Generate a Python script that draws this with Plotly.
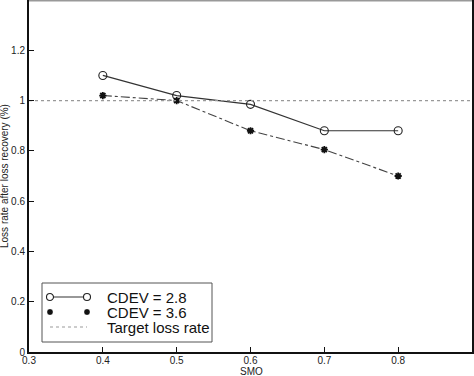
import plotly.graph_objects as go

smo = [0.4, 0.5, 0.6, 0.7, 0.8]
cdev28 = [1.10, 1.02, 0.985, 0.88, 0.88]
cdev36 = [1.02, 1.00, 0.88, 0.805, 0.70]
target_x = [0.3, 0.9]
target_loss = 1.0
series_names = ["CDEV = 2.8", "CDEV = 3.6", "Target loss rate"]
x_ticks = [0.3, 0.4, 0.5, 0.6, 0.7, 0.8]
y_ticks = [0, 0.2, 0.4, 0.6, 0.8, 1, 1.2]
y_tick_text = ["0", "0.2", "0.4", "0.6", "0.8", "1", "1.2"]

W, H = 474, 376
ML, MR, MT, MB = 29, 2, 0, 24
PW, PH = W - ML - MR, H - MT - MB


def px(x):
    return (x - ML) / PW


def py(y):
    return (H - MB - y) / PH


fig = go.Figure()
fig.add_trace(go.Scatter(
    x=smo, y=cdev28, mode="lines+markers", name=series_names[0],
    line=dict(color="#333333", width=1.2),
    marker=dict(symbol="circle-open", size=8, color="#222222", line=dict(width=1.1)),
))
fig.add_trace(go.Scatter(
    x=smo, y=cdev36, mode="lines+markers", name=series_names[1],
    line=dict(color="#444444", width=1.1, dash="dashdot"),
    marker=dict(symbol="asterisk-open", size=6, color="#111111", line=dict(width=1.8, color="#111111")),
))
fig.add_trace(go.Scatter(
    x=target_x, y=[target_loss] * len(target_x), mode="lines", name=series_names[2],
    line=dict(color="#999999", width=1.2, dash="dot"),
))

axis_common = dict(
    showgrid=False, zeroline=False, showline=True, linecolor="#111111", linewidth=2,
    mirror=True, ticks="inside", ticklen=5, tickcolor="#111111", automargin=False,
    tickfont=dict(size=10, color="#222222"),
)
fig.update_layout(
    width=W, height=H,
    margin=dict(l=ML, r=MR, t=MT, b=MB, autoexpand=False),
    paper_bgcolor="white", plot_bgcolor="white",
    font=dict(family="Liberation Sans, Arial, sans-serif", color="#222222", size=10),
    showlegend=False,
    xaxis=dict(range=[0.3, 0.9], tickvals=x_ticks, ticktext=[str(v) for v in x_ticks],
               ticklabelstandoff=-2, **axis_common),
    yaxis=dict(range=[0, 1.4], tickvals=y_ticks, ticktext=y_tick_text, **axis_common),
)

# top border gray
fig.add_shape(type="line", xref="paper", yref="paper", x0=0, x1=1, y0=1, y1=1,
              line=dict(color="#999999", width=3))

# axis titles
fig.add_annotation(text="SMO", xref="paper", yref="paper", x=px(251), y=py(371.5),
                   xanchor="center", yanchor="middle", showarrow=False,
                   font=dict(size=10, color="#222222"))
fig.add_annotation(text="Loss rate after loss recovery (%)", xref="paper", yref="paper",
                   x=px(4), y=0.5, xanchor="center", yanchor="middle", textangle=-90,
                   showarrow=False, font=dict(size=10, color="#222222"))

# custom legend box
fig.add_shape(type="rect", xref="paper", yref="paper", x0=px(42), x1=px(212), y0=py(342), y1=py(283),
              line=dict(color="#555555", width=1), fillcolor="white", layer="above")
rows = [297, 312, 327]
kx0, kx1 = 50, 87
# row 1: solid line with circles
fig.add_shape(type="line", xref="paper", yref="paper", x0=px(kx0), x1=px(kx1), y0=py(rows[0]), y1=py(rows[0]),
              line=dict(color="#333333", width=1.2), layer="above")
for kx in (kx0, kx1):
    fig.add_shape(type="circle", xref="paper", yref="paper", xsizemode="pixel", ysizemode="pixel",
                  xanchor=px(kx), yanchor=py(rows[0]), x0=-3.5, x1=3.5, y0=-3.5, y1=3.5,
                  line=dict(color="#222222", width=1.1), fillcolor="white", layer="above")
# row 2: asterisks
star = "M-3,0L3,0M0,-3L0,3M-2.2,-2.2L2.2,2.2M-2.2,2.2L2.2,-2.2"
for kx in (kx0, kx1):
    fig.add_shape(type="path", xref="paper", yref="paper", xsizemode="pixel", ysizemode="pixel",
                  xanchor=px(kx), yanchor=py(rows[1]), path=star,
                  line=dict(color="#111111", width=1.6), layer="above")
# row 3: dotted line
fig.add_shape(type="line", xref="paper", yref="paper", x0=px(kx0), x1=px(kx1), y0=py(rows[2]), y1=py(rows[2]),
              line=dict(color="#999999", width=1.2, dash="dot"), layer="above")
for name, ry in zip(series_names, rows):
    fig.add_annotation(text=name, xref="paper", yref="paper", x=px(105), y=py(ry),
                       xanchor="left", yanchor="middle", showarrow=False,
                       font=dict(size=15, color="#111111"))

fig.write_html("out.html", config={"displayModeBar": False},
               post_script="document.body.style.margin='0';document.body.style.padding='0';")
